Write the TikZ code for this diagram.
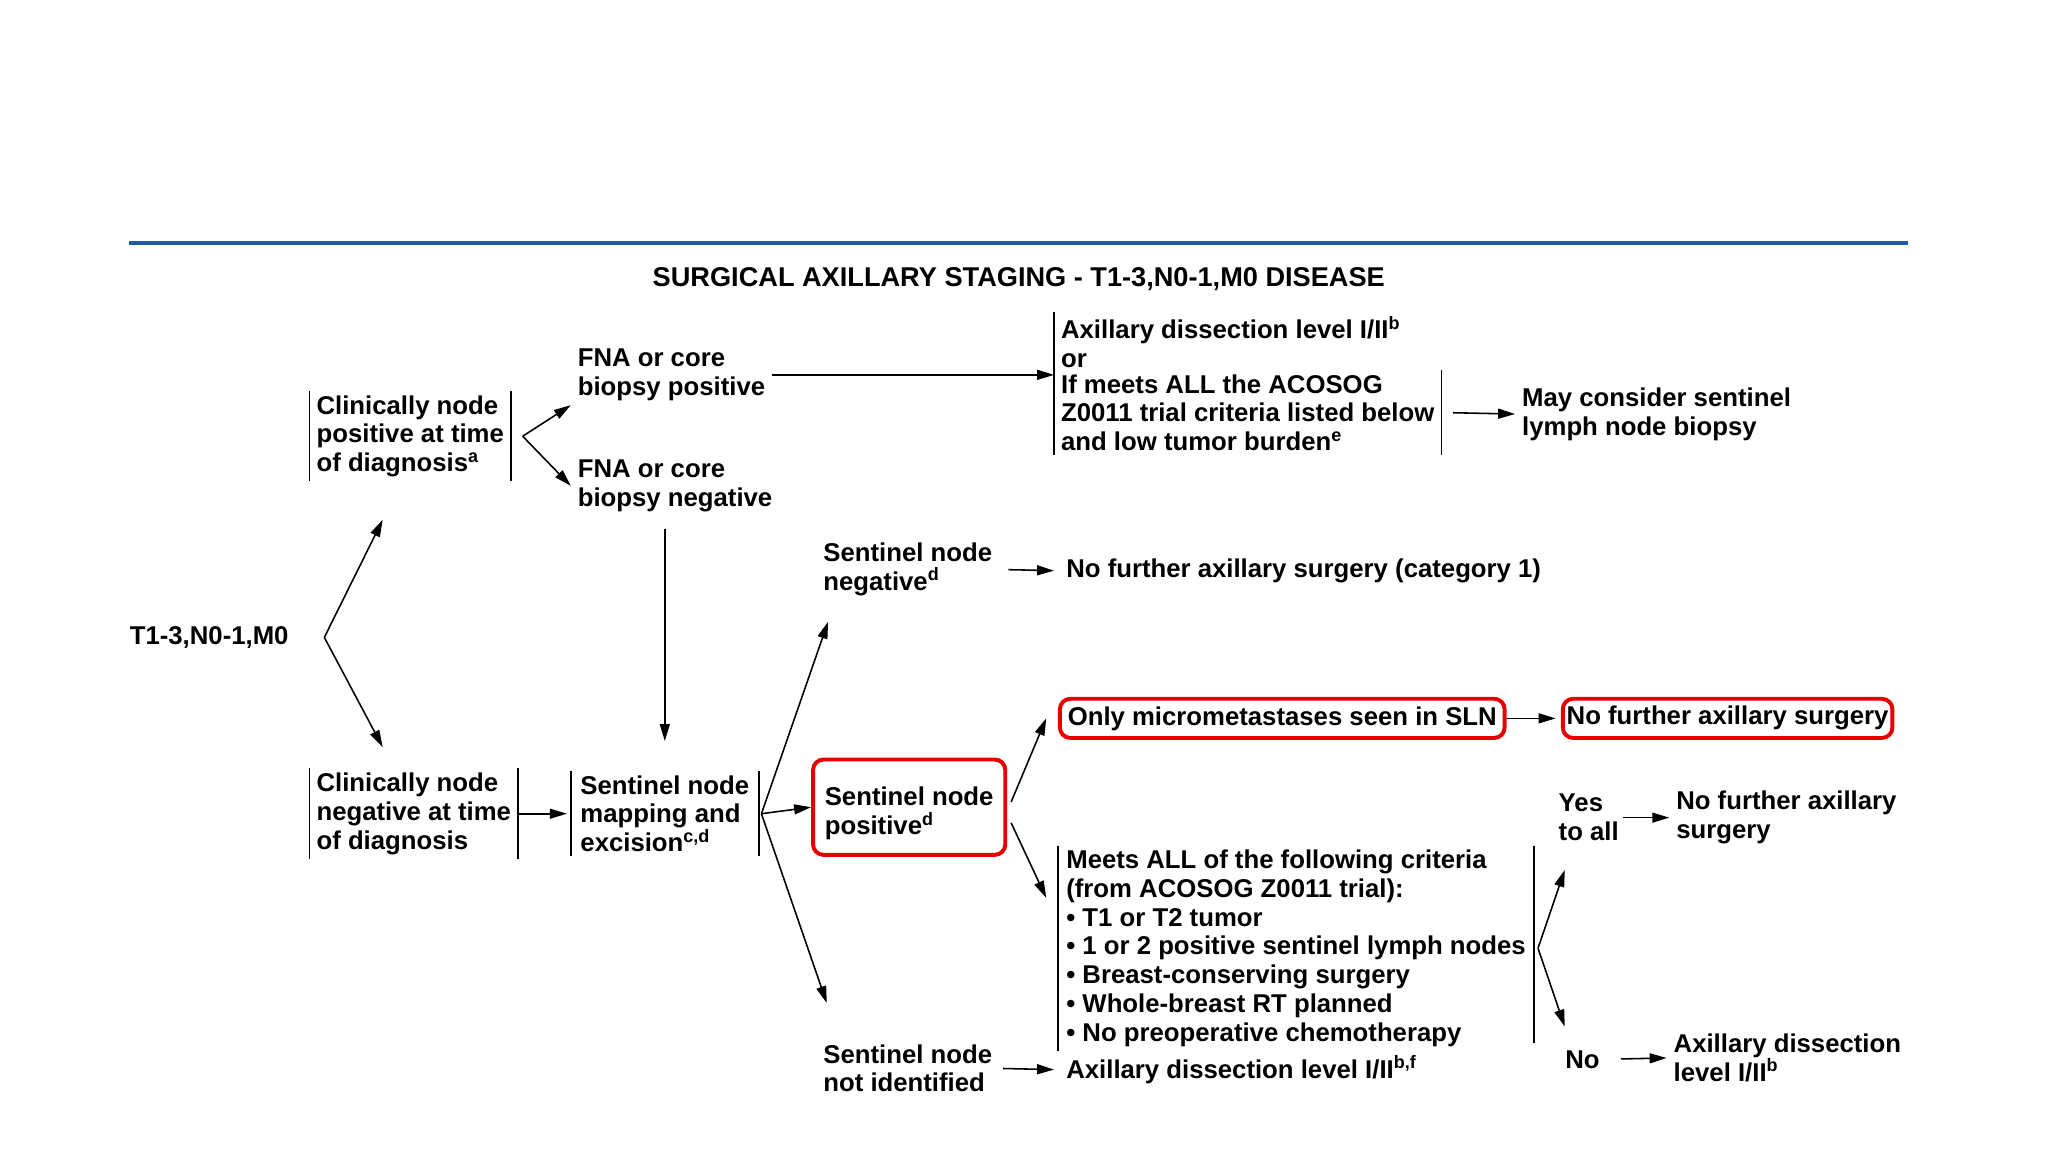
\documentclass[tikz,border=0pt]{standalone}
\usepackage{fontspec}
\setmainfont{Liberation Sans}
\usetikzlibrary{arrows.meta,calc}
\definecolor{nccnblue}{RGB}{30,92,160}
\definecolor{boxred}{RGB}{232,0,0}
\newcommand\barsof[1]{\draw[barline] (#1.north west) -- (#1.south west) (#1.north east) -- (#1.south east);}
\begin{document}
\begin{tikzpicture}[x=0.5pt,y=-0.5pt,
  every node/.style={font=\fontsize{9.85pt}{11pt}\selectfont\bfseries, inner sep=0pt},
  txt/.style={anchor=west, align=left, inner xsep=2.5pt, inner ysep=1.5pt, yshift=-1pt},
  barline/.style={line width=0.55pt},
  arr/.style={line width=0.6pt, -{Triangle[length=6.5pt,width=3.8pt]}},
  redbox/.style={draw=boxred, line width=1.5pt, rounded corners=4pt, anchor=west, align=left},
]
\useasboundingbox (0,0) rectangle (1568,882);
\fill[white] (0,0) rectangle (1568,882);

\draw[nccnblue, line width=1.3pt] (99,186) -- (1461,186);
\node[font=\fontsize{10.4pt}{12pt}\selectfont\bfseries] (title) at (780,214) {SURGICAL AXILLARY STAGING - T1-3,N0-1,M0 DISEASE};

% left column
\node[txt, inner xsep=0pt] (start) at (99,486) {T1-3,N0-1,M0};
\node[txt] (cpos) at (237,332) {Clinically node\\positive at time\\of diagnosis\textsuperscript{a}};
\barsof{cpos}
\node[txt] (cneg) at (237,621) {Clinically node\\negative at time\\of diagnosis};
\barsof{cneg}

% FNA
\node[txt] (fnapos) at (437,285) {FNA or core\\biopsy positive};
\node[txt] (fnaneg) at (437,370) {FNA or core\\biopsy negative};
\node[txt, inner xsep=3.5pt] (map) at (437,621) {Sentinel node\\mapping and\\excision\textsuperscript{c,d}};
\barsof{map}

% axillary block
\node[txt] (axdA) at (807,260) {Axillary dissection level I/II\textsuperscript{b}\\or};
\node[txt] (axdB) at (807,314) {If meets ALL the ACOSOG\\Z0011 trial criteria listed below\\and low tumor burden\textsuperscript{e}};
\draw[barline] (axdA.north west) -- (axdB.south west) (axdB.north east) -- (axdB.south east);
\node[txt] (may) at (1160,315) {May consider sentinel\\lymph node biopsy};

% sentinel results
\node[txt] (snneg) at (625,434) {Sentinel node\\negative\textsuperscript{d}};
\node[txt] (nf1) at (811,435) {No further axillary surgery (category 1)};
\node[redbox, inner xsep=4.5pt, minimum height=36.5pt] (snpos) at (621,618) {\rule{0pt}{12pt}Sentinel node\\positive\textsuperscript{d}};
\node[txt] (snni) at (625,816) {Sentinel node\\not identified};
\node[txt] (ad3) at (811,817) {Axillary dissection level I/II\textsuperscript{b,f}};

\node[redbox, inner xsep=3pt, minimum height=15pt] (micro) at (810,550) {Only micrometastases seen in SLN};
\node[redbox, inner xsep=1.5pt, minimum height=15pt] (nf2) at (1195,550) {No further axillary surgery};

\node[txt, inner xsep=3pt] (meets) at (810,724) {Meets ALL of the following criteria\\(from ACOSOG Z0011 trial):\\• T1 or T2 tumor\\• 1 or 2 positive sentinel lymph nodes\\• Breast-conserving surgery\\• Whole-breast RT planned\\• No preoperative chemotherapy};
\draw[barline] (meets.north west) -- (meets.south west) (meets.north east) -- ([yshift=3pt]meets.south east);

\node[txt] (yes) at (1188,624) {Yes\\to all};
\node[txt] (nf3) at (1278,624) {No further axillary\\surgery};
\node[txt] (no) at (1193,809) {No};
\node[txt] (ad2) at (1276,808) {Axillary dissection\\level I/II\textsuperscript{b}};

% coordinates for free ends
\coordinate (f1) at ([xshift=13.5pt]start.east);
\coordinate (f1u) at (293,398);
\coordinate (f1d) at (293,572);
\coordinate (f2) at ([xshift=4.5pt]cpos.east);
\coordinate (f3) at ([xshift=1pt]map.east);
\coordinate (f3u) at (634,476);
\coordinate (f3d) at (633,768);
\coordinate (f4) at ([xshift=1.5pt]meets.east);
\coordinate (f4u) at (1198,666);
\coordinate (f4d) at (1198,786);

% connectors
\draw[arr] (f1) -- (f1u);
\draw[arr] (f1) -- (f1d);
\draw[arr] (f2) -- (fnapos.south west);
\draw[arr] (f2) -- (fnaneg.west);
\draw[arr] (fnapos.east) -- (fnapos.east -| axdB.west);
\draw[arr] ([xshift=4.5pt]axdB.east) -- (may.west);
\draw[arr, shorten <=5pt, shorten >=11.5pt] (map.north |- fnaneg.south) -- (map.north);
\draw[arr, shorten >=1.5pt] (cneg.east) -- (map.west);
\draw[arr] (f3) -- (f3u);
\draw[arr] (f3) -- (snpos.west);
\draw[arr] (f3) -- (f3d);
\draw[arr, shorten <=3.5pt, shorten >=2pt] (snneg.east) -- (nf1.west);
\draw[arr] ([yshift=2pt,xshift=1.5pt]snpos.east) -- ([xshift=-4.5pt]micro.west);
\draw[arr] ([yshift=-6pt,xshift=1.5pt]snpos.east) -- ([xshift=-4.5pt,yshift=-20pt]meets.north west);
\draw[arr, shorten >=2pt] (micro.east) -- (nf2.west);
\draw[arr] (f4) -- (f4u);
\draw[arr] (f4) -- (f4d);
\draw[arr] ([xshift=-1pt]yes.east) -- (nf3.west);
\draw[arr, shorten <=5.5pt] (no.east) -- (ad2.west);
\draw[arr, shorten <=1.5pt, shorten >=2pt] (snni.east) -- (ad3.west);
\end{tikzpicture}
\end{document}
